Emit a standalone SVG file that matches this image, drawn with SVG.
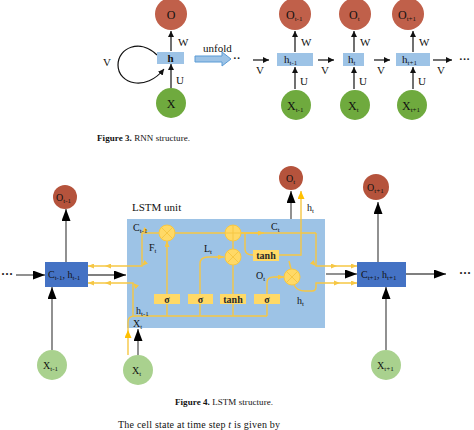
<svg xmlns="http://www.w3.org/2000/svg" width="474" height="430" viewBox="0 0 474 430">
<defs>
<style>
text{font-family:"Liberation Serif","Times New Roman",serif;fill:#111}
.f3{font-size:12px}
.lab{font-size:11px}
.in{font-size:10px}
.sub{font-size:7px}
.ored{fill:#C0604A}
.og{fill:#6FAA3E}
.lg{fill:#A9D18E}
.hb{fill:#9DC3E6}
.db{fill:#4472C4}
.bl{stroke:#111;stroke-width:1.2;fill:none}
.gl{stroke:#555;stroke-width:1.3;fill:none}
.yl{stroke:#F6C744;stroke-width:1.4;fill:none}
.ybox{fill:#FFD966}
.ycirc{fill:#FFD966;stroke:#F6C744;stroke-width:1}
.bt{font-size:10px;font-weight:bold;fill:#2a2a2a}
</style>
<marker id="as" viewBox="0 0 10 10" refX="10" refY="5" markerWidth="6" markerHeight="6" markerUnits="userSpaceOnUse" orient="auto"><path d="M0,0 L10,5 L0,10 z" fill="#111"/></marker>
<marker id="ab" viewBox="0 0 12 9" refX="12" refY="4.5" markerWidth="12" markerHeight="9" markerUnits="userSpaceOnUse" orient="auto"><path d="M0,0 L12,4.5 L0,9 z" fill="#000"/></marker>
<marker id="ay" viewBox="0 0 6 5" refX="6" refY="2.5" markerWidth="6" markerHeight="5" markerUnits="userSpaceOnUse" orient="auto"><path d="M0,0 L6,2.5 L0,5 z" fill="#F6C744"/></marker>
<marker id="ayb" viewBox="0 0 8 7" refX="8" refY="3.5" markerWidth="8" markerHeight="7" markerUnits="userSpaceOnUse" orient="auto"><path d="M0,0 L8,3.5 L0,7 z" fill="#FFC000"/></marker>
</defs>

<!-- Figure 3 -->
<g id="fig3-connectors">
<line class="bl" x1="171" y1="51" x2="171" y2="31" marker-end="url(#as)"/>
<line class="bl" x1="171" y1="88" x2="171" y2="64" marker-end="url(#as)"/>
<path class="bl" d="M157,55 C140,38 118,48 118,65 C118,84 146,92 164,69" marker-end="url(#as)"/>
<line class="bl" x1="295" y1="52" x2="295" y2="31" marker-end="url(#as)"/>
<line class="bl" x1="354" y1="52" x2="354" y2="31" marker-end="url(#as)"/>
<line class="bl" x1="413" y1="52" x2="413" y2="31" marker-end="url(#as)"/>
<line class="bl" x1="295" y1="89" x2="295" y2="67" marker-end="url(#as)"/>
<line class="bl" x1="354" y1="89" x2="354" y2="67" marker-end="url(#as)"/>
<line class="bl" x1="413" y1="89" x2="413" y2="67" marker-end="url(#as)"/>
<line class="bl" x1="253" y1="60" x2="269" y2="60" marker-end="url(#as)"/>
<line class="bl" x1="318" y1="60" x2="334" y2="60" marker-end="url(#as)"/>
<line class="bl" x1="374" y1="60" x2="390" y2="60" marker-end="url(#as)"/>
<line class="bl" x1="433" y1="60" x2="452" y2="60" marker-end="url(#as)"/>
<path d="M195,56 L222,56 L222,52 L231,59 L222,66 L222,62 L195,62 z" fill="#9DC3E6" stroke="#5B9BD5" stroke-width="1"/>
</g>
<g id="fig3-labels">
<text class="lab" x="178" y="46">W</text>
<text class="lab" x="176" y="84">U</text>
<text class="lab" x="103" y="66">V</text>
<text class="lab" x="203" y="52">unfold</text>
<text class="lab" x="233" y="62" font-weight="bold">··</text>
<text class="lab" x="301" y="46">W</text>
<text class="lab" x="360" y="46">W</text>
<text class="lab" x="419" y="46">W</text>
<text class="lab" x="300" y="85">U</text>
<text class="lab" x="359" y="85">U</text>
<text class="lab" x="418" y="85">U</text>
<text class="lab" x="256" y="74">V</text>
<text class="lab" x="321" y="74">V</text>
<text class="lab" x="377" y="74">V</text>
<text class="lab" x="437" y="74">V</text>
<text class="lab" x="459" y="63" font-weight="bold">···</text>
</g>
<g id="O"><circle class="ored" cx="171" cy="14" r="16"/><text class="f3" x="171" y="19" text-anchor="middle">O</text></g>
<g id="h"><rect class="hb" x="157" y="52" width="27" height="12"/><text class="lab" x="170.5" y="61.5" text-anchor="middle" font-weight="bold">h</text></g>
<g id="X"><circle class="og" cx="171" cy="103" r="15"/><text class="f3" x="171" y="108" text-anchor="middle">X</text></g>
<g id="O_t-1"><circle class="ored" cx="295" cy="14" r="16"/><text class="f3" x="286" y="19">O<tspan class="sub" dy="2">t-1</tspan></text></g>
<g id="O_t"><circle class="ored" cx="355" cy="14" r="16"/><text class="f3" x="349" y="19">O<tspan class="sub" dy="2">t</tspan></text></g>
<g id="O_t+1"><circle class="ored" cx="408" cy="14" r="16"/><text class="f3" x="398" y="19">O<tspan class="sub" dy="2">t+1</tspan></text></g>
<g id="h_t-1"><rect class="hb" x="277" y="53" width="36" height="13"/><text class="lab" x="284" y="63">h<tspan class="sub" dy="2">t-1</tspan></text></g>
<g id="h_t"><rect class="hb" x="343" y="53" width="21" height="13"/><text class="lab" x="348" y="63">h<tspan class="sub" dy="2">t</tspan></text></g>
<g id="h_t+1"><rect class="hb" x="396" y="53" width="34" height="13"/><text class="lab" x="402" y="63">h<tspan class="sub" dy="2">t+1</tspan></text></g>
<g id="X_t-1"><circle class="og" cx="296" cy="105" r="15"/><text class="f3" x="287" y="110">X<tspan class="sub" dy="2">t-1</tspan></text></g>
<g id="X_t"><circle class="og" cx="355" cy="105" r="15"/><text class="f3" x="348" y="110">X<tspan class="sub" dy="2">t</tspan></text></g>
<g id="X_t+1"><circle class="og" cx="412" cy="105" r="15"/><text class="f3" x="402" y="110">X<tspan class="sub" dy="2">t+1</tspan></text></g>
<text x="97" y="141" font-size="9" textLength="93"><tspan font-weight="bold">Figure 3.</tspan> RNN structure.</text>

<!-- Figure 4 -->
<g id="lstm-unit">
<rect class="hb" x="127" y="219" width="198" height="109"/>
<text class="lab" x="132" y="211">LSTM unit</text>
</g>
<g id="connectors">
<!-- black -->
<line class="gl" x1="16" y1="275" x2="45" y2="275" marker-end="url(#ab)"/>
<line class="gl" x1="88" y1="275" x2="126" y2="275" marker-end="url(#ab)"/>
<line class="gl" x1="326" y1="274" x2="357" y2="274" marker-end="url(#ab)"/>
<line class="gl" x1="406" y1="274" x2="446" y2="274" marker-end="url(#ab)"/>
<line class="gl" x1="66" y1="262" x2="66" y2="209" marker-end="url(#ab)"/>
<line class="gl" x1="291" y1="219" x2="291" y2="191" marker-end="url(#ab)"/>
<line class="gl" x1="378" y1="262" x2="378" y2="202" marker-end="url(#ab)"/>
<line class="gl" x1="52" y1="350" x2="52" y2="287" marker-end="url(#ab)"/>
<line class="gl" x1="138" y1="355" x2="138" y2="329" marker-end="url(#ab)"/>
<line class="gl" x1="386" y1="350" x2="386" y2="287" marker-end="url(#ab)"/>
<!-- yellow -->
<path class="yl" d="M316,233 L142,233 L142,266 L105,266 L88,266" marker-mid="url(#ay)" marker-end="url(#ay)"/>
<path class="yl" d="M133,316 L133,283 L105,283 L88,283" marker-mid="url(#ay)" marker-end="url(#ay)"/>
<path class="yl" d="M128,355 L128,330" marker-end="url(#ayb)"/>
<path class="yl" d="M128,330 L128,322 Q128,316 135,316 L267,316"/>
<line class="yl" x1="167" y1="316" x2="167" y2="304"/>
<line class="yl" x1="200" y1="316" x2="200" y2="304"/>
<line class="yl" x1="233" y1="316" x2="233" y2="304"/>
<line class="yl" x1="267" y1="316" x2="267" y2="304"/>
<line class="yl" x1="167" y1="294" x2="167" y2="241" marker-end="url(#ay)"/>
<path class="yl" d="M200,294 L200,264 Q200,257 208,257 L224,257" marker-end="url(#ay)"/>
<line class="yl" x1="233" y1="294" x2="233" y2="265"/>
<line class="yl" x1="233" y1="249" x2="233" y2="241"/>
<path class="yl" d="M240,233 L264,233" marker-end="url(#ay)"/>
<path class="yl" d="M267,294 L267,283 Q267,277 274,277 L284,277" marker-end="url(#ay)"/>
<path class="yl" d="M245,233 L245,249 Q245,255 253,255"/>
<path class="yl" d="M279,255 L301,255 L301,191" marker-end="url(#ayb)"/>
<line class="yl" x1="289" y1="261" x2="291" y2="269"/>
<path class="yl" d="M316,233 L316,266 L337,266 L357,266" marker-mid="url(#ay)" marker-end="url(#ay)"/>
<path class="yl" d="M294,285 Q297,291 305,291 L312,291 Q316,291 316,287 L316,283 L337,283 L357,283" marker-end="url(#ay)"/>
<path d="M334,280.5 L340,283 L334,285.5 z" fill="#F6C744"/>
</g>
<g id="forget-mul"><circle class="ycirc" cx="167" cy="233" r="8"/><path d="M161.3,227.3 L172.7,238.7 M172.7,227.3 L161.3,238.7" stroke="#F6C744" stroke-width="1"/></g>
<g id="plus"><circle class="ycirc" cx="233" cy="233" r="8"/><path d="M225,233 L241,233 M233,225 L233,241" stroke="#F6C744" stroke-width="1"/></g>
<g id="input-mul"><circle class="ycirc" cx="233" cy="257" r="8"/><path d="M227.3,251.3 L238.7,262.7 M238.7,251.3 L227.3,262.7" stroke="#F6C744" stroke-width="1"/></g>
<g id="output-mul"><circle class="ycirc" cx="292" cy="277" r="8"/><path d="M286.3,271.3 L297.7,282.7 M297.7,271.3 L286.3,282.7" stroke="#F6C744" stroke-width="1"/></g>
<g id="sigma1"><rect class="ybox" x="154" y="294" width="26" height="10"/><text class="bt" x="167" y="302.5" text-anchor="middle">σ</text></g>
<g id="sigma2"><rect class="ybox" x="188" y="294" width="25" height="10"/><text class="bt" x="200.5" y="302.5" text-anchor="middle">σ</text></g>
<g id="tanh1"><rect class="ybox" x="220" y="294" width="26" height="10"/><text class="bt" x="233" y="302.5" text-anchor="middle">tanh</text></g>
<g id="sigma3"><rect class="ybox" x="254" y="294" width="26" height="10"/><text class="bt" x="267" y="302.5" text-anchor="middle">σ</text></g>
<g id="tanh2"><rect class="ybox" x="253" y="250" width="26" height="11"/><text class="bt" x="266" y="258.5" text-anchor="middle">tanh</text></g>
<g id="inner-labels">
<text class="in" x="133" y="231">C<tspan class="sub" dy="2">t-1</tspan></text>
<text class="in" x="149" y="251">F<tspan class="sub" dy="2">t</tspan></text>
<text class="in" x="204" y="252">L<tspan class="sub" dy="2">t</tspan></text>
<text class="in" x="271" y="230">C<tspan class="sub" dy="2">t</tspan></text>
<text class="in" x="256" y="279">O<tspan class="sub" dy="2">t</tspan></text>
<text class="in" x="297" y="304">h<tspan class="sub" dy="2">t</tspan></text>
<text class="in" x="136" y="314">h<tspan class="sub" dy="2">t-1</tspan></text>
<text class="in" x="133" y="327">X<tspan class="sub" dy="2">t</tspan></text>
<text class="in" x="307" y="211">h<tspan class="sub" dy="2">t</tspan></text>
</g>
<g id="box-left"><rect class="db" x="45" y="262" width="43" height="25"/><text class="in" x="48" y="278">C<tspan class="sub" dy="2">t-1</tspan><tspan dy="-2">,  h</tspan><tspan class="sub" dy="2">t-1</tspan></text></g>
<g id="box-right"><rect class="db" x="357" y="262" width="49" height="25"/><text class="in" x="361" y="278">C<tspan class="sub" dy="2">t+1</tspan><tspan dy="-2">,  h</tspan><tspan class="sub" dy="2">t+1</tspan></text></g>
<g id="O4_t-1"><circle cx="65" cy="197" r="12" fill="#B5533C"/><text class="in" x="56" y="201">O<tspan class="sub" dy="2">t-1</tspan></text></g>
<g id="O4_t"><circle cx="291" cy="178" r="12" fill="#B5533C"/><text class="in" x="286" y="182">O<tspan class="sub" dy="2">t</tspan></text></g>
<g id="O4_t+1"><circle cx="376" cy="187" r="13" fill="#B5533C"/><text class="in" x="367" y="191">O<tspan class="sub" dy="2">t+1</tspan></text></g>
<g id="X4_t-1"><circle class="lg" cx="52" cy="365" r="15"/><text class="in" x="43" y="369">X<tspan class="sub" dy="2">t-1</tspan></text></g>
<g id="X4_t"><circle class="lg" cx="138" cy="370" r="15"/><text class="in" x="132" y="374">X<tspan class="sub" dy="2">t</tspan></text></g>
<g id="X4_t+1"><circle class="lg" cx="386" cy="365" r="15"/><text class="in" x="377" y="369">X<tspan class="sub" dy="2">t+1</tspan></text></g>
<text x="1" y="278" font-size="12" font-weight="bold">···</text>
<text x="459" y="277" font-size="12" font-weight="bold">···</text>
<text x="175" y="405" font-size="9" textLength="98"><tspan font-weight="bold">Figure 4.</tspan> LSTM structure.</text>
<text x="118" y="428" font-size="10" textLength="162">The cell state at time step <tspan font-style="italic">t</tspan> is given by</text>
</svg>
